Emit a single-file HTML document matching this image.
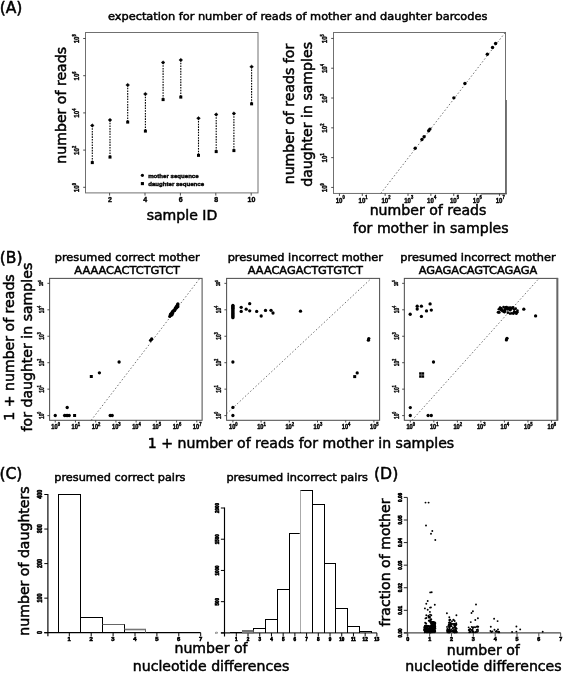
<!DOCTYPE html>
<html lang="en"><head><meta charset="utf-8"><title>Figure</title>
<style>
html,body{margin:0;padding:0;background:#fff}
svg{display:block}
text.m{font-family:"DejaVu Sans","Liberation Sans",sans-serif;fill:#000;stroke:#000;stroke-width:0.5px}
text.t{font-family:"Liberation Sans","DejaVu Sans",sans-serif;font-weight:bold;fill:#000;stroke:#000;stroke-width:0.4px}
text.s{font-family:"Liberation Sans","DejaVu Sans",sans-serif;font-weight:bold;fill:#000;stroke:#000;stroke-width:0.6px}
</style></head><body>
<svg width="563" height="673" viewBox="0 0 563 673">
<rect width="563" height="673" fill="#fff"/>
<text class="m" x="-0.30" y="12.70" font-size="15.5" text-anchor="start">(A)</text>
<text class="m" x="-0.30" y="262.80" font-size="15.5" text-anchor="start">(B)</text>
<text class="m" x="-0.50" y="479.30" font-size="15.5" text-anchor="start">(C)</text>
<text class="m" x="374.00" y="479.30" font-size="15.7" text-anchor="start">(D)</text>
<text class="m" x="297.70" y="19.60" font-size="11.37" text-anchor="middle">expectation for number of reads of mother and daughter barcodes</text>
<rect x="85.50" y="32.50" width="172.50" height="160.40" fill="none" stroke="#707070" stroke-width="1.0"/>
<line x1="109.60" y1="192.90" x2="109.60" y2="195.60" stroke="#3a3a3a" stroke-width="0.9"/>
<g transform="translate(109.90 201.90) rotate(0) scale(1.0 1)"><text class="t" x="0" y="0" font-size="7.0" text-anchor="middle">2</text></g>
<line x1="145.00" y1="192.90" x2="145.00" y2="195.60" stroke="#3a3a3a" stroke-width="0.9"/>
<g transform="translate(145.30 201.90) rotate(0) scale(1.0 1)"><text class="t" x="0" y="0" font-size="7.0" text-anchor="middle">4</text></g>
<line x1="180.40" y1="192.90" x2="180.40" y2="195.60" stroke="#3a3a3a" stroke-width="0.9"/>
<g transform="translate(180.70 201.90) rotate(0) scale(1.0 1)"><text class="t" x="0" y="0" font-size="7.0" text-anchor="middle">6</text></g>
<line x1="215.80" y1="192.90" x2="215.80" y2="195.60" stroke="#3a3a3a" stroke-width="0.9"/>
<g transform="translate(216.10 201.90) rotate(0) scale(1.0 1)"><text class="t" x="0" y="0" font-size="7.0" text-anchor="middle">8</text></g>
<line x1="251.20" y1="192.90" x2="251.20" y2="195.60" stroke="#3a3a3a" stroke-width="0.9"/>
<g transform="translate(251.50 201.90) rotate(0) scale(1.0 1)"><text class="t" x="0" y="0" font-size="7.0" text-anchor="middle">10</text></g>
<line x1="83.20" y1="187.30" x2="85.50" y2="187.30" stroke="#3a3a3a" stroke-width="0.9"/>
<g transform="translate(79.20 187.60) rotate(-90) scale(0.83 1)"><text class="t" x="0" y="0" font-size="7.5" text-anchor="middle">10<tspan font-size="4.8" dy="-3.5">0</tspan></text></g>
<line x1="83.20" y1="150.10" x2="85.50" y2="150.10" stroke="#3a3a3a" stroke-width="0.9"/>
<g transform="translate(79.20 150.40) rotate(-90) scale(0.83 1)"><text class="t" x="0" y="0" font-size="7.5" text-anchor="middle">10<tspan font-size="4.8" dy="-3.5">2</tspan></text></g>
<line x1="83.20" y1="112.90" x2="85.50" y2="112.90" stroke="#3a3a3a" stroke-width="0.9"/>
<g transform="translate(79.20 113.20) rotate(-90) scale(0.83 1)"><text class="t" x="0" y="0" font-size="7.5" text-anchor="middle">10<tspan font-size="4.8" dy="-3.5">4</tspan></text></g>
<line x1="83.20" y1="75.70" x2="85.50" y2="75.70" stroke="#3a3a3a" stroke-width="0.9"/>
<g transform="translate(79.20 76.00) rotate(-90) scale(0.83 1)"><text class="t" x="0" y="0" font-size="7.5" text-anchor="middle">10<tspan font-size="4.8" dy="-3.5">6</tspan></text></g>
<line x1="83.20" y1="38.50" x2="85.50" y2="38.50" stroke="#3a3a3a" stroke-width="0.9"/>
<g transform="translate(79.20 38.80) rotate(-90) scale(0.83 1)"><text class="t" x="0" y="0" font-size="7.5" text-anchor="middle">10<tspan font-size="4.8" dy="-3.5">8</tspan></text></g>
<line x1="92.30" y1="125.50" x2="92.30" y2="162.60" stroke="#000" stroke-width="1.1" stroke-dasharray="1.6 1.1"/>
<polygon points="90.40,125.50 92.30,123.80 94.20,125.50 92.30,127.20" fill="#000" stroke="#000" stroke-width="0.4" stroke-linejoin="round"/>
<rect x="90.80" y="161.10" width="3" height="3" fill="#000"/>
<line x1="110.00" y1="120.00" x2="110.00" y2="157.10" stroke="#000" stroke-width="1.1" stroke-dasharray="1.6 1.1"/>
<polygon points="108.10,120.00 110.00,118.30 111.90,120.00 110.00,121.70" fill="#000" stroke="#000" stroke-width="0.4" stroke-linejoin="round"/>
<rect x="108.50" y="155.60" width="3" height="3" fill="#000"/>
<line x1="127.70" y1="85.00" x2="127.70" y2="122.10" stroke="#000" stroke-width="1.1" stroke-dasharray="1.6 1.1"/>
<polygon points="125.80,85.00 127.70,83.30 129.60,85.00 127.70,86.70" fill="#000" stroke="#000" stroke-width="0.4" stroke-linejoin="round"/>
<rect x="126.20" y="120.60" width="3" height="3" fill="#000"/>
<line x1="145.40" y1="94.00" x2="145.40" y2="131.10" stroke="#000" stroke-width="1.1" stroke-dasharray="1.6 1.1"/>
<polygon points="143.50,94.00 145.40,92.30 147.30,94.00 145.40,95.70" fill="#000" stroke="#000" stroke-width="0.4" stroke-linejoin="round"/>
<rect x="143.90" y="129.60" width="3" height="3" fill="#000"/>
<line x1="163.10" y1="62.50" x2="163.10" y2="99.60" stroke="#000" stroke-width="1.1" stroke-dasharray="1.6 1.1"/>
<polygon points="161.20,62.50 163.10,60.80 165.00,62.50 163.10,64.20" fill="#000" stroke="#000" stroke-width="0.4" stroke-linejoin="round"/>
<rect x="161.60" y="98.10" width="3" height="3" fill="#000"/>
<line x1="180.80" y1="60.00" x2="180.80" y2="97.10" stroke="#000" stroke-width="1.1" stroke-dasharray="1.6 1.1"/>
<polygon points="178.90,60.00 180.80,58.30 182.70,60.00 180.80,61.70" fill="#000" stroke="#000" stroke-width="0.4" stroke-linejoin="round"/>
<rect x="179.30" y="95.60" width="3" height="3" fill="#000"/>
<line x1="198.50" y1="118.25" x2="198.50" y2="155.35" stroke="#000" stroke-width="1.1" stroke-dasharray="1.6 1.1"/>
<polygon points="196.60,118.25 198.50,116.55 200.40,118.25 198.50,119.95" fill="#000" stroke="#000" stroke-width="0.4" stroke-linejoin="round"/>
<rect x="197.00" y="153.85" width="3" height="3" fill="#000"/>
<line x1="216.20" y1="114.50" x2="216.20" y2="151.60" stroke="#000" stroke-width="1.1" stroke-dasharray="1.6 1.1"/>
<polygon points="214.30,114.50 216.20,112.80 218.10,114.50 216.20,116.20" fill="#000" stroke="#000" stroke-width="0.4" stroke-linejoin="round"/>
<rect x="214.70" y="150.10" width="3" height="3" fill="#000"/>
<line x1="233.90" y1="113.50" x2="233.90" y2="150.60" stroke="#000" stroke-width="1.1" stroke-dasharray="1.6 1.1"/>
<polygon points="232.00,113.50 233.90,111.80 235.80,113.50 233.90,115.20" fill="#000" stroke="#000" stroke-width="0.4" stroke-linejoin="round"/>
<rect x="232.40" y="149.10" width="3" height="3" fill="#000"/>
<line x1="251.60" y1="66.75" x2="251.60" y2="103.85" stroke="#000" stroke-width="1.1" stroke-dasharray="1.6 1.1"/>
<polygon points="249.70,66.75 251.60,65.05 253.50,66.75 251.60,68.45" fill="#000" stroke="#000" stroke-width="0.4" stroke-linejoin="round"/>
<rect x="250.10" y="102.35" width="3" height="3" fill="#000"/>
<circle cx="142.40" cy="175.30" r="1.6" fill="#000"/>
<rect x="140.85" y="182.05" width="3.1" height="3.1" fill="#000"/>
<text class="t" x="148.20" y="177.90" font-size="6.1" text-anchor="start">mother sequence</text>
<text class="t" x="148.20" y="186.10" font-size="6.1" text-anchor="start">daughter sequence</text>
<text class="m" x="66.30" y="105.30" font-size="14.1" text-anchor="middle" transform="rotate(-90 66.30 105.30)">number of reads</text>
<text class="m" x="182.00" y="219.60" font-size="14.1" text-anchor="middle">sample ID</text>
<rect x="333.50" y="32.50" width="172.00" height="160.95" fill="none" stroke="#707070" stroke-width="1.0"/>
<line x1="506.10" y1="100.00" x2="506.10" y2="193.95" stroke="#6a6a6a" stroke-width="1.6"/>
<line x1="481.00" y1="193.75" x2="506.70" y2="193.75" stroke="#555" stroke-width="1.4"/>
<line x1="339.44" y1="193.45" x2="339.44" y2="195.95" stroke="#3a3a3a" stroke-width="0.9"/>
<g transform="translate(340.19 202.70) rotate(0) scale(0.87 1)"><text class="t" x="0" y="0" font-size="7.0" text-anchor="middle">10<tspan font-size="4.7" dy="-3.7">0</tspan></text></g>
<line x1="362.30" y1="193.45" x2="362.30" y2="195.95" stroke="#3a3a3a" stroke-width="0.9"/>
<g transform="translate(363.05 202.70) rotate(0) scale(0.87 1)"><text class="t" x="0" y="0" font-size="7.0" text-anchor="middle">10<tspan font-size="4.7" dy="-3.7">1</tspan></text></g>
<line x1="385.16" y1="193.45" x2="385.16" y2="195.95" stroke="#3a3a3a" stroke-width="0.9"/>
<g transform="translate(385.91 202.70) rotate(0) scale(0.87 1)"><text class="t" x="0" y="0" font-size="7.0" text-anchor="middle">10<tspan font-size="4.7" dy="-3.7">2</tspan></text></g>
<line x1="408.02" y1="193.45" x2="408.02" y2="195.95" stroke="#3a3a3a" stroke-width="0.9"/>
<g transform="translate(408.77 202.70) rotate(0) scale(0.87 1)"><text class="t" x="0" y="0" font-size="7.0" text-anchor="middle">10<tspan font-size="4.7" dy="-3.7">3</tspan></text></g>
<line x1="430.88" y1="193.45" x2="430.88" y2="195.95" stroke="#3a3a3a" stroke-width="0.9"/>
<g transform="translate(431.63 202.70) rotate(0) scale(0.87 1)"><text class="t" x="0" y="0" font-size="7.0" text-anchor="middle">10<tspan font-size="4.7" dy="-3.7">4</tspan></text></g>
<line x1="453.74" y1="193.45" x2="453.74" y2="195.95" stroke="#3a3a3a" stroke-width="0.9"/>
<g transform="translate(454.49 202.70) rotate(0) scale(0.87 1)"><text class="t" x="0" y="0" font-size="7.0" text-anchor="middle">10<tspan font-size="4.7" dy="-3.7">5</tspan></text></g>
<line x1="476.60" y1="193.45" x2="476.60" y2="195.95" stroke="#3a3a3a" stroke-width="0.9"/>
<g transform="translate(477.35 202.70) rotate(0) scale(0.87 1)"><text class="t" x="0" y="0" font-size="7.0" text-anchor="middle">10<tspan font-size="4.7" dy="-3.7">6</tspan></text></g>
<line x1="499.46" y1="193.45" x2="499.46" y2="195.95" stroke="#3a3a3a" stroke-width="0.9"/>
<g transform="translate(500.21 202.70) rotate(0) scale(0.87 1)"><text class="t" x="0" y="0" font-size="7.0" text-anchor="middle">10<tspan font-size="4.7" dy="-3.7">7</tspan></text></g>
<line x1="331.20" y1="187.43" x2="333.50" y2="187.43" stroke="#3a3a3a" stroke-width="0.9"/>
<g transform="translate(327.00 187.73) rotate(-90) scale(0.83 1)"><text class="t" x="0" y="0" font-size="7.5" text-anchor="middle">10<tspan font-size="4.8" dy="-3.5">0</tspan></text></g>
<line x1="331.20" y1="157.63" x2="333.50" y2="157.63" stroke="#3a3a3a" stroke-width="0.9"/>
<g transform="translate(327.00 157.93) rotate(-90) scale(0.83 1)"><text class="t" x="0" y="0" font-size="7.5" text-anchor="middle">10<tspan font-size="4.8" dy="-3.5">1</tspan></text></g>
<line x1="331.20" y1="127.83" x2="333.50" y2="127.83" stroke="#3a3a3a" stroke-width="0.9"/>
<g transform="translate(327.00 128.13) rotate(-90) scale(0.83 1)"><text class="t" x="0" y="0" font-size="7.5" text-anchor="middle">10<tspan font-size="4.8" dy="-3.5">2</tspan></text></g>
<line x1="331.20" y1="98.03" x2="333.50" y2="98.03" stroke="#3a3a3a" stroke-width="0.9"/>
<g transform="translate(327.00 98.33) rotate(-90) scale(0.83 1)"><text class="t" x="0" y="0" font-size="7.5" text-anchor="middle">10<tspan font-size="4.8" dy="-3.5">3</tspan></text></g>
<line x1="331.20" y1="68.23" x2="333.50" y2="68.23" stroke="#3a3a3a" stroke-width="0.9"/>
<g transform="translate(327.00 68.53) rotate(-90) scale(0.83 1)"><text class="t" x="0" y="0" font-size="7.5" text-anchor="middle">10<tspan font-size="4.8" dy="-3.5">4</tspan></text></g>
<line x1="331.20" y1="38.43" x2="333.50" y2="38.43" stroke="#3a3a3a" stroke-width="0.9"/>
<g transform="translate(327.00 38.73) rotate(-90) scale(0.83 1)"><text class="t" x="0" y="0" font-size="7.5" text-anchor="middle">10<tspan font-size="4.8" dy="-3.5">5</tspan></text></g>
<line x1="380.75" y1="193.45" x2="505.20" y2="32.50" stroke="#333" stroke-width="0.7" stroke-dasharray="1.5 2.1"/>
<circle cx="415.19" cy="148.28" r="1.7" fill="#000"/>
<circle cx="421.94" cy="139.48" r="1.7" fill="#000"/>
<circle cx="464.91" cy="83.47" r="1.7" fill="#000"/>
<circle cx="453.86" cy="97.87" r="1.7" fill="#000"/>
<circle cx="492.54" cy="47.46" r="1.7" fill="#000"/>
<circle cx="495.60" cy="43.46" r="1.7" fill="#000"/>
<circle cx="424.09" cy="136.68" r="1.7" fill="#000"/>
<circle cx="428.69" cy="130.68" r="1.7" fill="#000"/>
<circle cx="429.92" cy="129.08" r="1.7" fill="#000"/>
<circle cx="487.32" cy="54.26" r="1.7" fill="#000"/>
<text class="m" x="293.90" y="114.00" font-size="14.1" text-anchor="middle" transform="rotate(-90 293.90 114.00)">number of reads for</text>
<text class="m" x="311.70" y="114.40" font-size="14.1" text-anchor="middle" transform="rotate(-90 311.70 114.40)">daughter in samples</text>
<text class="m" x="428.00" y="214.90" font-size="14.1" text-anchor="middle">number of reads</text>
<text class="m" x="430.80" y="233.20" font-size="14.1" text-anchor="middle">for mother in samples</text>
<rect x="49.60" y="278.40" width="152.50" height="141.90" fill="none" stroke="#505050" stroke-width="1.05"/>
<line x1="55.25" y1="420.30" x2="55.25" y2="422.50" stroke="#3a3a3a" stroke-width="0.9"/>
<g transform="translate(55.65 428.85) rotate(0) scale(0.875 1)"><text class="t" x="0" y="0" font-size="6.5" text-anchor="middle">10<tspan font-size="4.8" dy="-2.9">0</tspan></text></g>
<line x1="75.47" y1="420.30" x2="75.47" y2="422.50" stroke="#3a3a3a" stroke-width="0.9"/>
<g transform="translate(75.87 428.85) rotate(0) scale(0.875 1)"><text class="t" x="0" y="0" font-size="6.5" text-anchor="middle">10<tspan font-size="4.8" dy="-2.9">1</tspan></text></g>
<line x1="95.69" y1="420.30" x2="95.69" y2="422.50" stroke="#3a3a3a" stroke-width="0.9"/>
<g transform="translate(96.09 428.85) rotate(0) scale(0.875 1)"><text class="t" x="0" y="0" font-size="6.5" text-anchor="middle">10<tspan font-size="4.8" dy="-2.9">2</tspan></text></g>
<line x1="115.91" y1="420.30" x2="115.91" y2="422.50" stroke="#3a3a3a" stroke-width="0.9"/>
<g transform="translate(116.31 428.85) rotate(0) scale(0.875 1)"><text class="t" x="0" y="0" font-size="6.5" text-anchor="middle">10<tspan font-size="4.8" dy="-2.9">3</tspan></text></g>
<line x1="136.13" y1="420.30" x2="136.13" y2="422.50" stroke="#3a3a3a" stroke-width="0.9"/>
<g transform="translate(136.53 428.85) rotate(0) scale(0.875 1)"><text class="t" x="0" y="0" font-size="6.5" text-anchor="middle">10<tspan font-size="4.8" dy="-2.9">4</tspan></text></g>
<line x1="156.35" y1="420.30" x2="156.35" y2="422.50" stroke="#3a3a3a" stroke-width="0.9"/>
<g transform="translate(156.75 428.85) rotate(0) scale(0.875 1)"><text class="t" x="0" y="0" font-size="6.5" text-anchor="middle">10<tspan font-size="4.8" dy="-2.9">5</tspan></text></g>
<line x1="176.57" y1="420.30" x2="176.57" y2="422.50" stroke="#3a3a3a" stroke-width="0.9"/>
<g transform="translate(176.97 428.85) rotate(0) scale(0.875 1)"><text class="t" x="0" y="0" font-size="6.5" text-anchor="middle">10<tspan font-size="4.8" dy="-2.9">6</tspan></text></g>
<line x1="196.79" y1="420.30" x2="196.79" y2="422.50" stroke="#3a3a3a" stroke-width="0.9"/>
<g transform="translate(197.19 428.85) rotate(0) scale(0.875 1)"><text class="t" x="0" y="0" font-size="6.5" text-anchor="middle">10<tspan font-size="4.8" dy="-2.9">7</tspan></text></g>
<line x1="47.40" y1="415.60" x2="49.60" y2="415.60" stroke="#3a3a3a" stroke-width="0.9"/>
<g transform="translate(44.00 415.40) rotate(-90) scale(0.7 1)"><text class="t" x="0" y="0" font-size="7.0" text-anchor="middle">10<tspan font-size="5.0" dy="-2.8">0</tspan></text></g>
<line x1="47.40" y1="389.15" x2="49.60" y2="389.15" stroke="#3a3a3a" stroke-width="0.9"/>
<g transform="translate(44.00 388.95) rotate(-90) scale(0.7 1)"><text class="t" x="0" y="0" font-size="7.0" text-anchor="middle">10<tspan font-size="5.0" dy="-2.8">1</tspan></text></g>
<line x1="47.40" y1="362.70" x2="49.60" y2="362.70" stroke="#3a3a3a" stroke-width="0.9"/>
<g transform="translate(44.00 362.50) rotate(-90) scale(0.7 1)"><text class="t" x="0" y="0" font-size="7.0" text-anchor="middle">10<tspan font-size="5.0" dy="-2.8">2</tspan></text></g>
<line x1="47.40" y1="336.25" x2="49.60" y2="336.25" stroke="#3a3a3a" stroke-width="0.9"/>
<g transform="translate(44.00 336.05) rotate(-90) scale(0.7 1)"><text class="t" x="0" y="0" font-size="7.0" text-anchor="middle">10<tspan font-size="5.0" dy="-2.8">3</tspan></text></g>
<line x1="47.40" y1="309.80" x2="49.60" y2="309.80" stroke="#3a3a3a" stroke-width="0.9"/>
<g transform="translate(44.00 309.60) rotate(-90) scale(0.7 1)"><text class="t" x="0" y="0" font-size="7.0" text-anchor="middle">10<tspan font-size="5.0" dy="-2.8">4</tspan></text></g>
<line x1="47.40" y1="283.35" x2="49.60" y2="283.35" stroke="#3a3a3a" stroke-width="0.9"/>
<g transform="translate(43.40 283.15) rotate(-90) scale(0.7 1)"><text class="t" x="0" y="0" font-size="5.6" text-anchor="middle">10<tspan font-size="4.0" dy="-2.8">5</tspan></text></g>
<line x1="91.20" y1="420.30" x2="199.80" y2="278.40" stroke="#333" stroke-width="0.7" stroke-dasharray="1.5 2.1"/>
<text class="m" x="127.20" y="261.30" font-size="11.34" text-anchor="middle">presumed correct mother</text>
<text class="m" x="127.20" y="274.30" font-size="11.34" text-anchor="middle">AAAACACTCTGTCT</text>
<rect x="226.60" y="278.40" width="153.00" height="141.90" fill="none" stroke="#505050" stroke-width="1.05"/>
<line x1="232.90" y1="420.30" x2="232.90" y2="422.50" stroke="#3a3a3a" stroke-width="0.9"/>
<g transform="translate(233.30 428.85) rotate(0) scale(0.875 1)"><text class="t" x="0" y="0" font-size="6.5" text-anchor="middle">10<tspan font-size="4.8" dy="-2.9">0</tspan></text></g>
<line x1="261.10" y1="420.30" x2="261.10" y2="422.50" stroke="#3a3a3a" stroke-width="0.9"/>
<g transform="translate(261.50 428.85) rotate(0) scale(0.875 1)"><text class="t" x="0" y="0" font-size="6.5" text-anchor="middle">10<tspan font-size="4.8" dy="-2.9">1</tspan></text></g>
<line x1="289.30" y1="420.30" x2="289.30" y2="422.50" stroke="#3a3a3a" stroke-width="0.9"/>
<g transform="translate(289.70 428.85) rotate(0) scale(0.875 1)"><text class="t" x="0" y="0" font-size="6.5" text-anchor="middle">10<tspan font-size="4.8" dy="-2.9">2</tspan></text></g>
<line x1="317.50" y1="420.30" x2="317.50" y2="422.50" stroke="#3a3a3a" stroke-width="0.9"/>
<g transform="translate(317.90 428.85) rotate(0) scale(0.875 1)"><text class="t" x="0" y="0" font-size="6.5" text-anchor="middle">10<tspan font-size="4.8" dy="-2.9">3</tspan></text></g>
<line x1="345.70" y1="420.30" x2="345.70" y2="422.50" stroke="#3a3a3a" stroke-width="0.9"/>
<g transform="translate(346.10 428.85) rotate(0) scale(0.875 1)"><text class="t" x="0" y="0" font-size="6.5" text-anchor="middle">10<tspan font-size="4.8" dy="-2.9">4</tspan></text></g>
<line x1="373.90" y1="420.30" x2="373.90" y2="422.50" stroke="#3a3a3a" stroke-width="0.9"/>
<g transform="translate(374.30 428.85) rotate(0) scale(0.875 1)"><text class="t" x="0" y="0" font-size="6.5" text-anchor="middle">10<tspan font-size="4.8" dy="-2.9">5</tspan></text></g>
<line x1="224.40" y1="415.60" x2="226.60" y2="415.60" stroke="#3a3a3a" stroke-width="0.9"/>
<g transform="translate(221.00 415.40) rotate(-90) scale(0.7 1)"><text class="t" x="0" y="0" font-size="7.0" text-anchor="middle">10<tspan font-size="5.0" dy="-2.8">0</tspan></text></g>
<line x1="224.40" y1="389.15" x2="226.60" y2="389.15" stroke="#3a3a3a" stroke-width="0.9"/>
<g transform="translate(221.00 388.95) rotate(-90) scale(0.7 1)"><text class="t" x="0" y="0" font-size="7.0" text-anchor="middle">10<tspan font-size="5.0" dy="-2.8">1</tspan></text></g>
<line x1="224.40" y1="362.70" x2="226.60" y2="362.70" stroke="#3a3a3a" stroke-width="0.9"/>
<g transform="translate(221.00 362.50) rotate(-90) scale(0.7 1)"><text class="t" x="0" y="0" font-size="7.0" text-anchor="middle">10<tspan font-size="5.0" dy="-2.8">2</tspan></text></g>
<line x1="224.40" y1="336.25" x2="226.60" y2="336.25" stroke="#3a3a3a" stroke-width="0.9"/>
<g transform="translate(221.00 336.05) rotate(-90) scale(0.7 1)"><text class="t" x="0" y="0" font-size="7.0" text-anchor="middle">10<tspan font-size="5.0" dy="-2.8">3</tspan></text></g>
<line x1="224.40" y1="309.80" x2="226.60" y2="309.80" stroke="#3a3a3a" stroke-width="0.9"/>
<g transform="translate(221.00 309.60) rotate(-90) scale(0.7 1)"><text class="t" x="0" y="0" font-size="7.0" text-anchor="middle">10<tspan font-size="5.0" dy="-2.8">4</tspan></text></g>
<line x1="224.40" y1="283.35" x2="226.60" y2="283.35" stroke="#3a3a3a" stroke-width="0.9"/>
<g transform="translate(220.40 283.15) rotate(-90) scale(0.7 1)"><text class="t" x="0" y="0" font-size="5.6" text-anchor="middle">10<tspan font-size="4.0" dy="-2.8">5</tspan></text></g>
<line x1="226.60" y1="413.80" x2="371.30" y2="278.40" stroke="#333" stroke-width="0.7" stroke-dasharray="1.5 2.1"/>
<text class="m" x="305.30" y="261.30" font-size="11.34" text-anchor="middle">presumed incorrect mother</text>
<text class="m" x="305.30" y="274.30" font-size="11.34" text-anchor="middle">AAACAGACTGTGTCT</text>
<rect x="404.35" y="278.40" width="152.95" height="141.90" fill="none" stroke="#505050" stroke-width="1.05"/>
<line x1="410.30" y1="420.30" x2="410.30" y2="422.50" stroke="#3a3a3a" stroke-width="0.9"/>
<g transform="translate(410.70 428.85) rotate(0) scale(0.875 1)"><text class="t" x="0" y="0" font-size="6.5" text-anchor="middle">10<tspan font-size="4.8" dy="-2.9">0</tspan></text></g>
<line x1="433.83" y1="420.30" x2="433.83" y2="422.50" stroke="#3a3a3a" stroke-width="0.9"/>
<g transform="translate(434.23 428.85) rotate(0) scale(0.875 1)"><text class="t" x="0" y="0" font-size="6.5" text-anchor="middle">10<tspan font-size="4.8" dy="-2.9">1</tspan></text></g>
<line x1="457.36" y1="420.30" x2="457.36" y2="422.50" stroke="#3a3a3a" stroke-width="0.9"/>
<g transform="translate(457.76 428.85) rotate(0) scale(0.875 1)"><text class="t" x="0" y="0" font-size="6.5" text-anchor="middle">10<tspan font-size="4.8" dy="-2.9">2</tspan></text></g>
<line x1="480.89" y1="420.30" x2="480.89" y2="422.50" stroke="#3a3a3a" stroke-width="0.9"/>
<g transform="translate(481.29 428.85) rotate(0) scale(0.875 1)"><text class="t" x="0" y="0" font-size="6.5" text-anchor="middle">10<tspan font-size="4.8" dy="-2.9">3</tspan></text></g>
<line x1="504.42" y1="420.30" x2="504.42" y2="422.50" stroke="#3a3a3a" stroke-width="0.9"/>
<g transform="translate(504.82 428.85) rotate(0) scale(0.875 1)"><text class="t" x="0" y="0" font-size="6.5" text-anchor="middle">10<tspan font-size="4.8" dy="-2.9">4</tspan></text></g>
<line x1="527.95" y1="420.30" x2="527.95" y2="422.50" stroke="#3a3a3a" stroke-width="0.9"/>
<g transform="translate(528.35 428.85) rotate(0) scale(0.875 1)"><text class="t" x="0" y="0" font-size="6.5" text-anchor="middle">10<tspan font-size="4.8" dy="-2.9">5</tspan></text></g>
<line x1="551.48" y1="420.30" x2="551.48" y2="422.50" stroke="#3a3a3a" stroke-width="0.9"/>
<g transform="translate(551.88 428.85) rotate(0) scale(0.875 1)"><text class="t" x="0" y="0" font-size="6.5" text-anchor="middle">10<tspan font-size="4.8" dy="-2.9">6</tspan></text></g>
<line x1="402.15" y1="415.60" x2="404.35" y2="415.60" stroke="#3a3a3a" stroke-width="0.9"/>
<g transform="translate(398.75 415.40) rotate(-90) scale(0.7 1)"><text class="t" x="0" y="0" font-size="7.0" text-anchor="middle">10<tspan font-size="5.0" dy="-2.8">0</tspan></text></g>
<line x1="402.15" y1="389.15" x2="404.35" y2="389.15" stroke="#3a3a3a" stroke-width="0.9"/>
<g transform="translate(398.75 388.95) rotate(-90) scale(0.7 1)"><text class="t" x="0" y="0" font-size="7.0" text-anchor="middle">10<tspan font-size="5.0" dy="-2.8">1</tspan></text></g>
<line x1="402.15" y1="362.70" x2="404.35" y2="362.70" stroke="#3a3a3a" stroke-width="0.9"/>
<g transform="translate(398.75 362.50) rotate(-90) scale(0.7 1)"><text class="t" x="0" y="0" font-size="7.0" text-anchor="middle">10<tspan font-size="5.0" dy="-2.8">2</tspan></text></g>
<line x1="402.15" y1="336.25" x2="404.35" y2="336.25" stroke="#3a3a3a" stroke-width="0.9"/>
<g transform="translate(398.75 336.05) rotate(-90) scale(0.7 1)"><text class="t" x="0" y="0" font-size="7.0" text-anchor="middle">10<tspan font-size="5.0" dy="-2.8">3</tspan></text></g>
<line x1="402.15" y1="309.80" x2="404.35" y2="309.80" stroke="#3a3a3a" stroke-width="0.9"/>
<g transform="translate(398.75 309.60) rotate(-90) scale(0.7 1)"><text class="t" x="0" y="0" font-size="7.0" text-anchor="middle">10<tspan font-size="5.0" dy="-2.8">4</tspan></text></g>
<line x1="402.15" y1="283.35" x2="404.35" y2="283.35" stroke="#3a3a3a" stroke-width="0.9"/>
<g transform="translate(398.15 283.15) rotate(-90) scale(0.7 1)"><text class="t" x="0" y="0" font-size="5.6" text-anchor="middle">10<tspan font-size="4.0" dy="-2.8">5</tspan></text></g>
<line x1="412.00" y1="420.30" x2="539.00" y2="278.40" stroke="#333" stroke-width="0.7" stroke-dasharray="1.5 2.1"/>
<text class="m" x="478.00" y="261.30" font-size="11.34" text-anchor="middle">presumed incorrect mother</text>
<text class="m" x="478.00" y="274.30" font-size="11.34" text-anchor="middle">AGAGACAGTCAGAGA</text>
<line x1="557.40" y1="277.90" x2="557.40" y2="420.80" stroke="#666" stroke-width="1.9"/>
<circle cx="55.25" cy="415.50" r="1.65" fill="#000"/>
<circle cx="64.60" cy="415.50" r="1.65" fill="#000"/>
<circle cx="66.10" cy="415.50" r="1.65" fill="#000"/>
<circle cx="67.60" cy="415.50" r="1.65" fill="#000"/>
<circle cx="69.20" cy="415.50" r="1.65" fill="#000"/>
<circle cx="67.20" cy="407.50" r="1.65" fill="#000"/>
<circle cx="99.40" cy="372.80" r="1.65" fill="#000"/>
<circle cx="119.10" cy="362.00" r="1.65" fill="#000"/>
<circle cx="110.20" cy="415.50" r="1.65" fill="#000"/>
<circle cx="112.20" cy="415.50" r="1.65" fill="#000"/>
<circle cx="150.60" cy="340.30" r="1.65" fill="#000"/>
<circle cx="151.70" cy="338.90" r="1.65" fill="#000"/>
<rect x="73.10" y="414.00" width="3.0" height="3.0" fill="#000"/>
<rect x="89.80" y="375.00" width="3.0" height="3.0" fill="#000"/>
<circle cx="169.73" cy="316.44" r="1.5675" fill="#000"/>
<circle cx="170.56" cy="315.61" r="1.5675" fill="#000"/>
<circle cx="170.79" cy="314.62" r="1.5675" fill="#000"/>
<circle cx="170.47" cy="314.14" r="1.5675" fill="#000"/>
<circle cx="171.96" cy="313.79" r="1.5675" fill="#000"/>
<circle cx="171.87" cy="314.95" r="1.5675" fill="#000"/>
<circle cx="171.88" cy="314.44" r="1.5675" fill="#000"/>
<circle cx="172.75" cy="313.01" r="1.5675" fill="#000"/>
<circle cx="171.87" cy="312.59" r="1.5675" fill="#000"/>
<circle cx="172.44" cy="312.39" r="1.5675" fill="#000"/>
<circle cx="172.97" cy="311.99" r="1.5675" fill="#000"/>
<circle cx="172.59" cy="311.20" r="1.5675" fill="#000"/>
<circle cx="173.63" cy="310.72" r="1.5675" fill="#000"/>
<circle cx="173.93" cy="310.32" r="1.5675" fill="#000"/>
<circle cx="174.66" cy="309.72" r="1.5675" fill="#000"/>
<circle cx="174.60" cy="310.54" r="1.5675" fill="#000"/>
<circle cx="174.54" cy="310.25" r="1.5675" fill="#000"/>
<circle cx="174.86" cy="309.69" r="1.5675" fill="#000"/>
<circle cx="175.26" cy="307.97" r="1.5675" fill="#000"/>
<circle cx="176.13" cy="308.30" r="1.5675" fill="#000"/>
<circle cx="175.75" cy="308.02" r="1.5675" fill="#000"/>
<circle cx="176.37" cy="307.30" r="1.5675" fill="#000"/>
<circle cx="177.31" cy="306.81" r="1.5675" fill="#000"/>
<circle cx="176.12" cy="306.88" r="1.5675" fill="#000"/>
<circle cx="177.89" cy="306.69" r="1.5675" fill="#000"/>
<circle cx="177.10" cy="306.15" r="1.5675" fill="#000"/>
<circle cx="177.43" cy="304.95" r="1.5675" fill="#000"/>
<circle cx="177.09" cy="305.57" r="1.5675" fill="#000"/>
<circle cx="177.67" cy="304.48" r="1.5675" fill="#000"/>
<circle cx="177.89" cy="303.86" r="1.5675" fill="#000"/>
<circle cx="232.90" cy="305.30" r="1.65" fill="#000"/>
<circle cx="232.90" cy="306.25" r="1.65" fill="#000"/>
<circle cx="232.90" cy="307.20" r="1.65" fill="#000"/>
<circle cx="232.90" cy="308.15" r="1.65" fill="#000"/>
<circle cx="232.90" cy="309.10" r="1.65" fill="#000"/>
<circle cx="232.90" cy="310.05" r="1.65" fill="#000"/>
<circle cx="232.90" cy="311.00" r="1.65" fill="#000"/>
<circle cx="232.90" cy="311.95" r="1.65" fill="#000"/>
<circle cx="232.90" cy="312.90" r="1.65" fill="#000"/>
<circle cx="232.90" cy="313.85" r="1.65" fill="#000"/>
<circle cx="232.90" cy="314.80" r="1.65" fill="#000"/>
<circle cx="232.90" cy="315.75" r="1.65" fill="#000"/>
<circle cx="232.90" cy="316.70" r="1.65" fill="#000"/>
<circle cx="232.90" cy="317.65" r="1.65" fill="#000"/>
<circle cx="241.20" cy="307.30" r="1.65" fill="#000"/>
<circle cx="241.20" cy="311.40" r="1.65" fill="#000"/>
<circle cx="246.20" cy="309.20" r="1.65" fill="#000"/>
<circle cx="249.70" cy="303.70" r="1.65" fill="#000"/>
<circle cx="249.70" cy="310.80" r="1.65" fill="#000"/>
<circle cx="256.70" cy="311.40" r="1.65" fill="#000"/>
<circle cx="261.20" cy="316.00" r="1.65" fill="#000"/>
<circle cx="265.50" cy="310.40" r="1.65" fill="#000"/>
<circle cx="271.00" cy="310.30" r="1.65" fill="#000"/>
<circle cx="273.00" cy="313.00" r="1.65" fill="#000"/>
<circle cx="300.50" cy="311.20" r="1.65" fill="#000"/>
<circle cx="368.80" cy="338.60" r="1.65" fill="#000"/>
<circle cx="368.40" cy="340.20" r="1.65" fill="#000"/>
<circle cx="357.20" cy="372.90" r="1.65" fill="#000"/>
<circle cx="232.90" cy="362.00" r="1.65" fill="#000"/>
<circle cx="232.90" cy="407.40" r="1.65" fill="#000"/>
<circle cx="232.90" cy="415.50" r="1.65" fill="#000"/>
<rect x="353.20" y="375.10" width="3.0" height="3.0" fill="#000"/>
<circle cx="410.20" cy="314.25" r="1.65" fill="#000"/>
<circle cx="417.20" cy="306.20" r="1.65" fill="#000"/>
<circle cx="417.20" cy="309.00" r="1.65" fill="#000"/>
<circle cx="421.40" cy="306.20" r="1.65" fill="#000"/>
<circle cx="421.40" cy="316.40" r="1.65" fill="#000"/>
<circle cx="430.10" cy="303.90" r="1.65" fill="#000"/>
<circle cx="426.50" cy="310.90" r="1.65" fill="#000"/>
<circle cx="431.30" cy="310.10" r="1.65" fill="#000"/>
<circle cx="523.80" cy="309.20" r="1.65" fill="#000"/>
<circle cx="535.60" cy="315.90" r="1.65" fill="#000"/>
<circle cx="507.00" cy="338.30" r="1.65" fill="#000"/>
<circle cx="506.40" cy="339.90" r="1.65" fill="#000"/>
<circle cx="433.50" cy="362.00" r="1.65" fill="#000"/>
<circle cx="428.10" cy="415.50" r="1.65" fill="#000"/>
<circle cx="431.30" cy="415.50" r="1.65" fill="#000"/>
<circle cx="410.30" cy="407.60" r="1.65" fill="#000"/>
<circle cx="410.30" cy="415.50" r="1.65" fill="#000"/>
<rect x="419.15" y="372.25" width="2.5" height="2.5" fill="#000"/>
<rect x="421.65" y="372.25" width="2.5" height="2.5" fill="#000"/>
<rect x="419.15" y="375.25" width="2.5" height="2.5" fill="#000"/>
<rect x="421.65" y="375.25" width="2.5" height="2.5" fill="#000"/>
<circle cx="498.05" cy="312.33" r="1.35" fill="#000"/>
<circle cx="498.63" cy="312.23" r="1.35" fill="#000"/>
<circle cx="498.84" cy="309.27" r="1.35" fill="#000"/>
<circle cx="499.33" cy="312.39" r="1.35" fill="#000"/>
<circle cx="500.05" cy="307.58" r="1.35" fill="#000"/>
<circle cx="500.15" cy="308.12" r="1.35" fill="#000"/>
<circle cx="500.63" cy="309.81" r="1.35" fill="#000"/>
<circle cx="501.25" cy="308.36" r="1.35" fill="#000"/>
<circle cx="501.44" cy="309.40" r="1.35" fill="#000"/>
<circle cx="502.06" cy="310.40" r="1.35" fill="#000"/>
<circle cx="502.78" cy="311.25" r="1.35" fill="#000"/>
<circle cx="503.03" cy="310.78" r="1.35" fill="#000"/>
<circle cx="503.56" cy="307.08" r="1.35" fill="#000"/>
<circle cx="504.12" cy="311.89" r="1.35" fill="#000"/>
<circle cx="504.56" cy="312.03" r="1.35" fill="#000"/>
<circle cx="504.80" cy="309.41" r="1.35" fill="#000"/>
<circle cx="505.12" cy="310.97" r="1.35" fill="#000"/>
<circle cx="505.56" cy="307.25" r="1.35" fill="#000"/>
<circle cx="506.08" cy="307.89" r="1.35" fill="#000"/>
<circle cx="506.59" cy="307.19" r="1.35" fill="#000"/>
<circle cx="506.89" cy="307.85" r="1.35" fill="#000"/>
<circle cx="507.39" cy="309.28" r="1.35" fill="#000"/>
<circle cx="507.81" cy="312.66" r="1.35" fill="#000"/>
<circle cx="508.53" cy="307.90" r="1.35" fill="#000"/>
<circle cx="508.82" cy="309.23" r="1.35" fill="#000"/>
<circle cx="509.33" cy="307.76" r="1.35" fill="#000"/>
<circle cx="510.00" cy="313.53" r="1.35" fill="#000"/>
<circle cx="510.28" cy="310.18" r="1.35" fill="#000"/>
<circle cx="510.57" cy="307.68" r="1.35" fill="#000"/>
<circle cx="511.14" cy="308.77" r="1.35" fill="#000"/>
<circle cx="511.81" cy="308.12" r="1.35" fill="#000"/>
<circle cx="511.90" cy="313.33" r="1.35" fill="#000"/>
<circle cx="512.59" cy="308.05" r="1.35" fill="#000"/>
<circle cx="513.05" cy="307.28" r="1.35" fill="#000"/>
<circle cx="513.49" cy="313.58" r="1.35" fill="#000"/>
<circle cx="514.10" cy="311.74" r="1.35" fill="#000"/>
<circle cx="514.28" cy="309.57" r="1.35" fill="#000"/>
<circle cx="514.69" cy="312.26" r="1.35" fill="#000"/>
<circle cx="515.31" cy="312.33" r="1.35" fill="#000"/>
<circle cx="515.68" cy="308.68" r="1.35" fill="#000"/>
<circle cx="516.35" cy="313.73" r="1.35" fill="#000"/>
<circle cx="516.82" cy="312.57" r="1.35" fill="#000"/>
<circle cx="517.26" cy="312.15" r="1.35" fill="#000"/>
<circle cx="517.45" cy="310.69" r="1.35" fill="#000"/>
<text class="m" x="14.20" y="347.50" font-size="14.1" text-anchor="middle" transform="rotate(-90 14.20 347.50)">1 + number of reads</text>
<text class="m" x="31.80" y="347.10" font-size="14.1" text-anchor="middle" transform="rotate(-90 31.80 347.10)">for daughter in samples</text>
<text class="m" x="301.00" y="448.30" font-size="14.1" text-anchor="middle">1 + number of reads for mother in samples</text>
<line x1="47.90" y1="494.00" x2="47.90" y2="636.30" stroke="#000" stroke-width="1.15"/>
<line x1="44.30" y1="632.70" x2="200.70" y2="632.70" stroke="#000" stroke-width="1.3"/>
<line x1="44.30" y1="632.70" x2="47.90" y2="632.70" stroke="#000" stroke-width="1.0"/>
<g transform="translate(42.10 632.50) rotate(-90) scale(0.82 1)"><text class="s" x="0" y="0" font-size="6.6" text-anchor="middle">0</text></g>
<line x1="44.30" y1="598.15" x2="47.90" y2="598.15" stroke="#000" stroke-width="1.0"/>
<g transform="translate(42.10 597.95) rotate(-90) scale(0.82 1)"><text class="s" x="0" y="0" font-size="6.6" text-anchor="middle">100</text></g>
<line x1="44.30" y1="563.60" x2="47.90" y2="563.60" stroke="#000" stroke-width="1.0"/>
<g transform="translate(42.10 563.40) rotate(-90) scale(0.82 1)"><text class="s" x="0" y="0" font-size="6.6" text-anchor="middle">200</text></g>
<line x1="44.30" y1="529.05" x2="47.90" y2="529.05" stroke="#000" stroke-width="1.0"/>
<g transform="translate(42.10 528.85) rotate(-90) scale(0.82 1)"><text class="s" x="0" y="0" font-size="6.6" text-anchor="middle">300</text></g>
<line x1="44.30" y1="494.50" x2="47.90" y2="494.50" stroke="#000" stroke-width="1.0"/>
<g transform="translate(42.10 494.30) rotate(-90) scale(0.82 1)"><text class="s" x="0" y="0" font-size="6.6" text-anchor="middle">400</text></g>
<line x1="69.30" y1="632.70" x2="69.30" y2="636.30" stroke="#000" stroke-width="1.0"/>
<text class="s" x="69.20" y="640.90" font-size="5.9" text-anchor="middle">1</text>
<line x1="91.20" y1="632.70" x2="91.20" y2="636.30" stroke="#000" stroke-width="1.0"/>
<text class="s" x="91.10" y="640.90" font-size="5.9" text-anchor="middle">2</text>
<line x1="113.10" y1="632.70" x2="113.10" y2="636.30" stroke="#000" stroke-width="1.0"/>
<text class="s" x="113.00" y="640.90" font-size="5.9" text-anchor="middle">3</text>
<line x1="135.00" y1="632.70" x2="135.00" y2="636.30" stroke="#000" stroke-width="1.0"/>
<text class="s" x="134.90" y="640.90" font-size="5.9" text-anchor="middle">4</text>
<line x1="156.90" y1="632.70" x2="156.90" y2="636.30" stroke="#000" stroke-width="1.0"/>
<text class="s" x="156.80" y="640.90" font-size="5.9" text-anchor="middle">5</text>
<line x1="178.80" y1="632.70" x2="178.80" y2="636.30" stroke="#000" stroke-width="1.0"/>
<text class="s" x="178.70" y="640.90" font-size="5.9" text-anchor="middle">6</text>
<line x1="200.70" y1="632.70" x2="200.70" y2="636.30" stroke="#000" stroke-width="1.0"/>
<text class="s" x="200.60" y="640.90" font-size="5.9" text-anchor="middle">7</text>
<line x1="58.00" y1="494.50" x2="81.00" y2="494.50" stroke="#000" stroke-width="1.0"/>
<line x1="58.50" y1="494.50" x2="58.50" y2="632.70" stroke="#000" stroke-width="1.0"/>
<line x1="80.50" y1="494.50" x2="80.50" y2="632.70" stroke="#000" stroke-width="1.0"/>
<line x1="80.00" y1="617.50" x2="103.00" y2="617.50" stroke="#000" stroke-width="1.0"/>
<line x1="80.50" y1="617.50" x2="80.50" y2="632.70" stroke="#000" stroke-width="1.0"/>
<line x1="102.50" y1="617.50" x2="102.50" y2="632.70" stroke="#000" stroke-width="1.0"/>
<line x1="102.00" y1="624.50" x2="125.00" y2="624.50" stroke="#666" stroke-width="1.0"/>
<line x1="102.50" y1="624.50" x2="102.50" y2="632.70" stroke="#000" stroke-width="1.0"/>
<line x1="124.50" y1="624.50" x2="124.50" y2="632.70" stroke="#000" stroke-width="1.0"/>
<line x1="124.00" y1="629.50" x2="146.00" y2="629.50" stroke="#777" stroke-width="1.6"/>
<line x1="124.50" y1="629.50" x2="124.50" y2="632.70" stroke="#000" stroke-width="1.0"/>
<line x1="145.50" y1="629.50" x2="145.50" y2="632.70" stroke="#666" stroke-width="1.0"/>
<text class="m" x="119.90" y="481.30" font-size="11.3" text-anchor="middle">presumed correct pairs</text>
<text class="m" x="29.40" y="561.00" font-size="14.1" text-anchor="middle" transform="rotate(-90 29.40 561.00)">number of daughters</text>
<text class="m" x="211.00" y="653.40" font-size="14.1" text-anchor="middle">number of</text>
<text class="m" x="211.00" y="670.60" font-size="14.1" text-anchor="middle">nucleotide differences</text>
<line x1="224.50" y1="507.50" x2="224.50" y2="636.50" stroke="#000" stroke-width="1.15"/>
<line x1="220.90" y1="632.90" x2="230.50" y2="632.90" stroke="#000" stroke-width="1.2"/>
<line x1="230.50" y1="632.90" x2="376.90" y2="632.90" stroke="#333" stroke-width="1.2"/>
<line x1="220.90" y1="632.90" x2="224.50" y2="632.90" stroke="#000" stroke-width="1.0"/>
<text x="218.4" y="632.90" font-size="4.2" text-anchor="middle" transform="rotate(-90 218.4 632.90)" font-family='"Liberation Sans",sans-serif' font-weight="bold" fill="#666">0</text>
<line x1="220.90" y1="601.67" x2="224.50" y2="601.67" stroke="#000" stroke-width="1.0"/>
<text class="s" x="218.60" y="601.67" font-size="4.5" text-anchor="middle" transform="rotate(-90 218.60 601.67)">500</text>
<line x1="220.90" y1="570.45" x2="224.50" y2="570.45" stroke="#000" stroke-width="1.0"/>
<text class="s" x="218.60" y="570.45" font-size="4.5" text-anchor="middle" transform="rotate(-90 218.60 570.45)">1000</text>
<line x1="220.90" y1="539.23" x2="224.50" y2="539.23" stroke="#000" stroke-width="1.0"/>
<text class="s" x="218.60" y="539.23" font-size="4.5" text-anchor="middle" transform="rotate(-90 218.60 539.23)">1500</text>
<line x1="220.90" y1="508.00" x2="224.50" y2="508.00" stroke="#000" stroke-width="1.0"/>
<text class="s" x="218.60" y="508.00" font-size="4.5" text-anchor="middle" transform="rotate(-90 218.60 508.00)">2000</text>
<line x1="236.30" y1="632.90" x2="236.30" y2="636.50" stroke="#000" stroke-width="1.0"/>
<text class="s" x="236.30" y="640.90" font-size="4.6" text-anchor="middle">1</text>
<line x1="248.02" y1="632.90" x2="248.02" y2="636.50" stroke="#000" stroke-width="1.0"/>
<text class="s" x="248.02" y="640.90" font-size="4.6" text-anchor="middle">2</text>
<line x1="259.73" y1="632.90" x2="259.73" y2="636.50" stroke="#000" stroke-width="1.0"/>
<text class="s" x="259.73" y="640.90" font-size="4.6" text-anchor="middle">3</text>
<line x1="271.44" y1="632.90" x2="271.44" y2="636.50" stroke="#000" stroke-width="1.0"/>
<text class="s" x="271.44" y="640.90" font-size="4.6" text-anchor="middle">4</text>
<line x1="283.16" y1="632.90" x2="283.16" y2="636.50" stroke="#000" stroke-width="1.0"/>
<text class="s" x="283.16" y="640.90" font-size="4.6" text-anchor="middle">5</text>
<line x1="294.88" y1="632.90" x2="294.88" y2="636.50" stroke="#000" stroke-width="1.0"/>
<text class="s" x="294.88" y="640.90" font-size="4.6" text-anchor="middle">6</text>
<line x1="306.59" y1="632.90" x2="306.59" y2="636.50" stroke="#000" stroke-width="1.0"/>
<text class="s" x="306.59" y="640.90" font-size="4.6" text-anchor="middle">7</text>
<line x1="318.31" y1="632.90" x2="318.31" y2="636.50" stroke="#000" stroke-width="1.0"/>
<text class="s" x="318.31" y="640.90" font-size="4.6" text-anchor="middle">8</text>
<line x1="330.02" y1="632.90" x2="330.02" y2="636.50" stroke="#000" stroke-width="1.0"/>
<text class="s" x="330.02" y="640.90" font-size="4.6" text-anchor="middle">9</text>
<line x1="341.74" y1="632.90" x2="341.74" y2="636.50" stroke="#000" stroke-width="1.0"/>
<text class="s" x="341.74" y="640.90" font-size="4.6" text-anchor="middle">10</text>
<line x1="353.45" y1="632.90" x2="353.45" y2="636.50" stroke="#000" stroke-width="1.0"/>
<text class="s" x="353.45" y="640.90" font-size="4.6" text-anchor="middle">11</text>
<line x1="365.17" y1="632.90" x2="365.17" y2="636.50" stroke="#000" stroke-width="1.0"/>
<text class="s" x="365.17" y="640.90" font-size="4.6" text-anchor="middle">12</text>
<line x1="376.88" y1="632.90" x2="376.88" y2="636.50" stroke="#000" stroke-width="1.0"/>
<text class="s" x="376.88" y="640.90" font-size="4.6" text-anchor="middle">13</text>
<line x1="230.00" y1="632.50" x2="243.00" y2="632.50" stroke="#000" stroke-width="1.0"/>
<line x1="230.50" y1="632.50" x2="230.50" y2="632.90" stroke="#000" stroke-width="1.0"/>
<line x1="242.50" y1="632.50" x2="242.50" y2="632.90" stroke="#000" stroke-width="1.0"/>
<line x1="242.00" y1="630.50" x2="254.00" y2="630.50" stroke="#666" stroke-width="1.0"/>
<line x1="242.50" y1="630.50" x2="242.50" y2="632.90" stroke="#000" stroke-width="1.0"/>
<line x1="253.50" y1="630.50" x2="253.50" y2="632.90" stroke="#000" stroke-width="1.0"/>
<line x1="253.00" y1="628.50" x2="266.00" y2="628.50" stroke="#000" stroke-width="1.0"/>
<line x1="253.50" y1="628.50" x2="253.50" y2="632.90" stroke="#000" stroke-width="1.0"/>
<line x1="265.50" y1="628.50" x2="265.50" y2="632.90" stroke="#000" stroke-width="1.0"/>
<line x1="265.00" y1="619.50" x2="278.00" y2="619.50" stroke="#000" stroke-width="1.0"/>
<line x1="265.50" y1="619.50" x2="265.50" y2="632.90" stroke="#000" stroke-width="1.0"/>
<line x1="277.50" y1="619.50" x2="277.50" y2="632.90" stroke="#000" stroke-width="1.0"/>
<line x1="277.00" y1="589.50" x2="290.00" y2="589.50" stroke="#000" stroke-width="1.0"/>
<line x1="277.50" y1="589.50" x2="277.50" y2="632.90" stroke="#000" stroke-width="1.0"/>
<line x1="289.50" y1="589.50" x2="289.50" y2="632.90" stroke="#000" stroke-width="1.0"/>
<line x1="289.00" y1="533.50" x2="301.00" y2="533.50" stroke="#000" stroke-width="1.0"/>
<line x1="289.50" y1="533.50" x2="289.50" y2="632.90" stroke="#000" stroke-width="1.0"/>
<line x1="300.50" y1="533.50" x2="300.50" y2="632.90" stroke="#000" stroke-width="1.0"/>
<line x1="300.00" y1="490.50" x2="313.00" y2="490.50" stroke="#000" stroke-width="1.0"/>
<line x1="300.50" y1="490.50" x2="300.50" y2="632.90" stroke="#000" stroke-width="1.0"/>
<line x1="312.50" y1="490.50" x2="312.50" y2="632.90" stroke="#000" stroke-width="1.0"/>
<line x1="312.00" y1="504.50" x2="325.00" y2="504.50" stroke="#000" stroke-width="1.0"/>
<line x1="312.50" y1="504.50" x2="312.50" y2="632.90" stroke="#000" stroke-width="1.0"/>
<line x1="324.50" y1="504.50" x2="324.50" y2="632.90" stroke="#000" stroke-width="1.0"/>
<line x1="324.00" y1="563.50" x2="336.00" y2="563.50" stroke="#000" stroke-width="1.0"/>
<line x1="324.50" y1="563.50" x2="324.50" y2="632.90" stroke="#000" stroke-width="1.0"/>
<line x1="335.50" y1="563.50" x2="335.50" y2="632.90" stroke="#000" stroke-width="1.0"/>
<line x1="335.00" y1="608.50" x2="348.00" y2="608.50" stroke="#000" stroke-width="1.0"/>
<line x1="335.50" y1="608.50" x2="335.50" y2="632.90" stroke="#000" stroke-width="1.0"/>
<line x1="347.50" y1="608.50" x2="347.50" y2="632.90" stroke="#000" stroke-width="1.0"/>
<line x1="347.00" y1="626.50" x2="360.00" y2="626.50" stroke="#000" stroke-width="1.0"/>
<line x1="347.50" y1="626.50" x2="347.50" y2="632.90" stroke="#000" stroke-width="1.0"/>
<line x1="359.50" y1="626.50" x2="359.50" y2="632.90" stroke="#000" stroke-width="1.0"/>
<line x1="359.00" y1="631.50" x2="372.00" y2="631.50" stroke="#000" stroke-width="1.0"/>
<line x1="359.50" y1="631.50" x2="359.50" y2="632.90" stroke="#000" stroke-width="1.0"/>
<line x1="371.50" y1="631.50" x2="371.50" y2="632.90" stroke="#000" stroke-width="1.0"/>
<rect x="242.00" y="630.2" width="11.70" height="3.3" fill="#777"/>
<line x1="300.50" y1="490.70" x2="300.50" y2="632.10" stroke="#fff" stroke-width="1.6"/>
<line x1="300.50" y1="490.70" x2="300.50" y2="632.10" stroke="#aaa" stroke-width="1.0"/>
<text class="m" x="297.20" y="481.30" font-size="11.3" text-anchor="middle">presumed incorrect pairs</text>
<line x1="407.40" y1="497.40" x2="407.40" y2="636.50" stroke="#444" stroke-width="1.15"/>
<line x1="403.80" y1="632.90" x2="560.80" y2="632.90" stroke="#4a4a4a" stroke-width="1.35"/>
<line x1="403.80" y1="632.90" x2="407.40" y2="632.90" stroke="#222" stroke-width="1.0"/>
<text class="s" x="401.60" y="632.90" font-size="4.6" text-anchor="middle" transform="rotate(-90 401.60 632.90)">0.00</text>
<line x1="403.80" y1="610.32" x2="407.40" y2="610.32" stroke="#222" stroke-width="1.0"/>
<text class="s" x="401.60" y="610.32" font-size="4.6" text-anchor="middle" transform="rotate(-90 401.60 610.32)">0.01</text>
<line x1="403.80" y1="587.74" x2="407.40" y2="587.74" stroke="#222" stroke-width="1.0"/>
<text class="s" x="401.60" y="587.74" font-size="4.6" text-anchor="middle" transform="rotate(-90 401.60 587.74)">0.02</text>
<line x1="403.80" y1="565.16" x2="407.40" y2="565.16" stroke="#222" stroke-width="1.0"/>
<text class="s" x="401.60" y="565.16" font-size="4.6" text-anchor="middle" transform="rotate(-90 401.60 565.16)">0.03</text>
<line x1="403.80" y1="542.58" x2="407.40" y2="542.58" stroke="#222" stroke-width="1.0"/>
<text class="s" x="401.60" y="542.58" font-size="4.6" text-anchor="middle" transform="rotate(-90 401.60 542.58)">0.04</text>
<line x1="403.80" y1="520.00" x2="407.40" y2="520.00" stroke="#222" stroke-width="1.0"/>
<text class="s" x="401.60" y="520.00" font-size="4.6" text-anchor="middle" transform="rotate(-90 401.60 520.00)">0.05</text>
<line x1="403.80" y1="497.42" x2="407.40" y2="497.42" stroke="#222" stroke-width="1.0"/>
<text class="s" x="401.60" y="497.42" font-size="4.6" text-anchor="middle" transform="rotate(-90 401.60 497.42)">0.06</text>
<line x1="407.80" y1="632.90" x2="407.80" y2="636.50" stroke="#4a4a4a" stroke-width="1.0"/>
<text class="s" x="407.80" y="641.00" font-size="5.4" text-anchor="middle">0</text>
<line x1="429.64" y1="632.90" x2="429.64" y2="636.50" stroke="#4a4a4a" stroke-width="1.0"/>
<text class="s" x="429.64" y="641.00" font-size="5.4" text-anchor="middle">1</text>
<line x1="451.48" y1="632.90" x2="451.48" y2="636.50" stroke="#4a4a4a" stroke-width="1.0"/>
<text class="s" x="451.48" y="641.00" font-size="5.4" text-anchor="middle">2</text>
<line x1="473.32" y1="632.90" x2="473.32" y2="636.50" stroke="#4a4a4a" stroke-width="1.0"/>
<text class="s" x="473.32" y="641.00" font-size="5.4" text-anchor="middle">3</text>
<line x1="495.16" y1="632.90" x2="495.16" y2="636.50" stroke="#4a4a4a" stroke-width="1.0"/>
<text class="s" x="495.16" y="641.00" font-size="5.4" text-anchor="middle">4</text>
<line x1="517.00" y1="632.90" x2="517.00" y2="636.50" stroke="#4a4a4a" stroke-width="1.0"/>
<text class="s" x="517.00" y="641.00" font-size="5.4" text-anchor="middle">5</text>
<line x1="538.84" y1="632.90" x2="538.84" y2="636.50" stroke="#4a4a4a" stroke-width="1.0"/>
<text class="s" x="538.84" y="641.00" font-size="5.4" text-anchor="middle">6</text>
<line x1="560.68" y1="632.90" x2="560.68" y2="636.50" stroke="#4a4a4a" stroke-width="1.0"/>
<text class="s" x="560.68" y="641.00" font-size="5.4" text-anchor="middle">7</text>
<text class="m" x="390.20" y="562.50" font-size="14.1" text-anchor="middle" transform="rotate(-90 390.20 562.50)">fraction of mother</text>
<text class="m" x="483.30" y="654.60" font-size="14.1" text-anchor="middle">number of</text>
<text class="m" x="483.40" y="671.20" font-size="14.1" text-anchor="middle">nucleotide differences</text>
<circle cx="430.20" cy="592.40" r="0.95" fill="#000"/>
<circle cx="431.70" cy="592.20" r="0.95" fill="#000"/>
<circle cx="427.70" cy="601.00" r="0.95" fill="#000"/>
<circle cx="426.30" cy="603.70" r="0.95" fill="#000"/>
<circle cx="434.80" cy="604.80" r="0.95" fill="#000"/>
<circle cx="424.90" cy="608.40" r="0.95" fill="#000"/>
<circle cx="430.00" cy="607.60" r="0.95" fill="#000"/>
<circle cx="430.90" cy="607.40" r="0.95" fill="#000"/>
<circle cx="427.70" cy="609.80" r="0.95" fill="#000"/>
<circle cx="429.90" cy="611.90" r="0.95" fill="#000"/>
<circle cx="426.30" cy="615.20" r="0.95" fill="#000"/>
<circle cx="431.30" cy="615.20" r="0.95" fill="#000"/>
<circle cx="425.50" cy="502.60" r="0.95" fill="#000"/>
<circle cx="428.60" cy="502.60" r="0.95" fill="#000"/>
<circle cx="426.00" cy="525.50" r="0.95" fill="#000"/>
<circle cx="432.30" cy="531.00" r="0.95" fill="#000"/>
<circle cx="431.00" cy="533.70" r="0.95" fill="#000"/>
<circle cx="435.30" cy="540.00" r="0.95" fill="#000"/>
<circle cx="446.90" cy="613.30" r="0.95" fill="#000"/>
<circle cx="456.40" cy="615.20" r="0.95" fill="#000"/>
<circle cx="449.30" cy="617.30" r="0.95" fill="#000"/>
<circle cx="476.00" cy="604.50" r="0.95" fill="#000"/>
<circle cx="472.90" cy="611.20" r="0.95" fill="#000"/>
<circle cx="471.50" cy="613.00" r="0.95" fill="#000"/>
<circle cx="477.90" cy="618.30" r="0.95" fill="#000"/>
<circle cx="475.30" cy="620.00" r="0.95" fill="#000"/>
<circle cx="470.80" cy="622.10" r="0.95" fill="#000"/>
<circle cx="494.10" cy="618.70" r="0.95" fill="#000"/>
<circle cx="497.60" cy="621.10" r="0.95" fill="#000"/>
<circle cx="490.80" cy="626.80" r="0.95" fill="#000"/>
<circle cx="516.40" cy="626.50" r="0.95" fill="#000"/>
<circle cx="520.20" cy="629.40" r="0.95" fill="#000"/>
<circle cx="512.10" cy="632.00" r="0.95" fill="#000"/>
<circle cx="516.40" cy="631.60" r="0.95" fill="#000"/>
<circle cx="542.70" cy="631.80" r="0.95" fill="#000"/>
<circle cx="426.92" cy="625.67" r="0.95" fill="#000"/>
<circle cx="425.15" cy="622.79" r="0.95" fill="#000"/>
<circle cx="426.40" cy="618.04" r="0.95" fill="#000"/>
<circle cx="430.17" cy="620.86" r="0.95" fill="#000"/>
<circle cx="430.06" cy="614.64" r="0.95" fill="#000"/>
<circle cx="430.16" cy="621.81" r="0.95" fill="#000"/>
<circle cx="426.19" cy="623.39" r="0.95" fill="#000"/>
<circle cx="426.06" cy="623.65" r="0.95" fill="#000"/>
<circle cx="428.37" cy="615.65" r="0.95" fill="#000"/>
<circle cx="429.54" cy="620.49" r="0.95" fill="#000"/>
<circle cx="428.53" cy="616.80" r="0.95" fill="#000"/>
<circle cx="425.46" cy="618.40" r="0.95" fill="#000"/>
<circle cx="429.91" cy="617.00" r="0.95" fill="#000"/>
<circle cx="430.65" cy="619.11" r="0.95" fill="#000"/>
<circle cx="428.94" cy="617.55" r="0.95" fill="#000"/>
<circle cx="429.40" cy="617.50" r="0.95" fill="#000"/>
<circle cx="431.31" cy="619.52" r="0.95" fill="#000"/>
<circle cx="429.60" cy="616.77" r="0.95" fill="#000"/>
<circle cx="430.57" cy="620.65" r="0.95" fill="#000"/>
<circle cx="428.78" cy="620.74" r="0.95" fill="#000"/>
<circle cx="434.94" cy="622.45" r="0.95" fill="#000"/>
<circle cx="431.30" cy="622.36" r="0.95" fill="#000"/>
<circle cx="435.31" cy="623.11" r="0.95" fill="#000"/>
<circle cx="432.28" cy="623.59" r="0.95" fill="#000"/>
<circle cx="431.23" cy="625.94" r="0.95" fill="#000"/>
<circle cx="435.26" cy="623.14" r="0.95" fill="#000"/>
<circle cx="433.13" cy="621.89" r="0.95" fill="#000"/>
<circle cx="432.68" cy="622.16" r="0.95" fill="#000"/>
<circle cx="434.57" cy="625.07" r="0.95" fill="#000"/>
<circle cx="431.81" cy="624.71" r="0.95" fill="#000"/>
<circle cx="431.75" cy="623.42" r="0.95" fill="#000"/>
<circle cx="431.84" cy="624.16" r="0.95" fill="#000"/>
<circle cx="431.23" cy="622.00" r="0.95" fill="#000"/>
<circle cx="432.30" cy="623.98" r="0.95" fill="#000"/>
<circle cx="433.40" cy="622.02" r="0.95" fill="#000"/>
<circle cx="432.62" cy="621.96" r="0.95" fill="#000"/>
<circle cx="433.01" cy="623.66" r="0.95" fill="#000"/>
<circle cx="433.11" cy="625.92" r="0.95" fill="#000"/>
<circle cx="432.71" cy="625.19" r="0.95" fill="#000"/>
<circle cx="430.62" cy="622.48" r="0.95" fill="#000"/>
<circle cx="431.43" cy="623.92" r="0.95" fill="#000"/>
<circle cx="434.08" cy="623.55" r="0.95" fill="#000"/>
<circle cx="432.16" cy="623.72" r="0.95" fill="#000"/>
<circle cx="433.27" cy="622.55" r="0.95" fill="#000"/>
<circle cx="431.11" cy="623.53" r="0.95" fill="#000"/>
<circle cx="431.79" cy="624.78" r="0.95" fill="#000"/>
<circle cx="434.31" cy="623.77" r="0.95" fill="#000"/>
<circle cx="433.30" cy="622.66" r="0.95" fill="#000"/>
<circle cx="434.98" cy="624.05" r="0.95" fill="#000"/>
<circle cx="433.54" cy="623.78" r="0.95" fill="#000"/>
<circle cx="433.06" cy="622.95" r="0.95" fill="#000"/>
<circle cx="432.77" cy="623.65" r="0.95" fill="#000"/>
<circle cx="432.89" cy="621.86" r="0.95" fill="#000"/>
<circle cx="433.96" cy="622.14" r="0.95" fill="#000"/>
<circle cx="435.12" cy="624.86" r="0.95" fill="#000"/>
<circle cx="433.29" cy="621.85" r="0.95" fill="#000"/>
<circle cx="433.62" cy="631.47" r="0.95" fill="#000"/>
<circle cx="425.65" cy="629.39" r="0.95" fill="#000"/>
<circle cx="425.11" cy="630.76" r="0.95" fill="#000"/>
<circle cx="425.11" cy="627.85" r="0.95" fill="#000"/>
<circle cx="433.00" cy="626.30" r="0.95" fill="#000"/>
<circle cx="426.01" cy="627.53" r="0.95" fill="#000"/>
<circle cx="431.63" cy="631.43" r="0.95" fill="#000"/>
<circle cx="434.10" cy="625.82" r="0.95" fill="#000"/>
<circle cx="426.74" cy="625.92" r="0.95" fill="#000"/>
<circle cx="428.72" cy="629.09" r="0.95" fill="#000"/>
<circle cx="435.29" cy="626.74" r="0.95" fill="#000"/>
<circle cx="426.09" cy="629.47" r="0.95" fill="#000"/>
<circle cx="430.02" cy="630.09" r="0.95" fill="#000"/>
<circle cx="426.47" cy="630.23" r="0.95" fill="#000"/>
<circle cx="432.32" cy="632.27" r="0.95" fill="#000"/>
<circle cx="430.45" cy="629.40" r="0.95" fill="#000"/>
<circle cx="424.50" cy="630.15" r="0.95" fill="#000"/>
<circle cx="431.23" cy="628.92" r="0.95" fill="#000"/>
<circle cx="425.01" cy="625.70" r="0.95" fill="#000"/>
<circle cx="433.05" cy="625.79" r="0.95" fill="#000"/>
<circle cx="425.46" cy="630.59" r="0.95" fill="#000"/>
<circle cx="424.74" cy="627.10" r="0.95" fill="#000"/>
<circle cx="427.30" cy="631.52" r="0.95" fill="#000"/>
<circle cx="428.99" cy="626.20" r="0.95" fill="#000"/>
<circle cx="433.39" cy="630.64" r="0.95" fill="#000"/>
<circle cx="425.96" cy="626.15" r="0.95" fill="#000"/>
<circle cx="430.63" cy="627.64" r="0.95" fill="#000"/>
<circle cx="425.29" cy="632.01" r="0.95" fill="#000"/>
<circle cx="431.94" cy="629.51" r="0.95" fill="#000"/>
<circle cx="425.10" cy="626.02" r="0.95" fill="#000"/>
<circle cx="431.34" cy="626.95" r="0.95" fill="#000"/>
<circle cx="425.23" cy="626.58" r="0.95" fill="#000"/>
<circle cx="425.04" cy="626.53" r="0.95" fill="#000"/>
<circle cx="429.34" cy="630.09" r="0.95" fill="#000"/>
<circle cx="430.44" cy="626.10" r="0.95" fill="#000"/>
<circle cx="427.27" cy="631.52" r="0.95" fill="#000"/>
<circle cx="430.15" cy="630.78" r="0.95" fill="#000"/>
<circle cx="425.51" cy="631.30" r="0.95" fill="#000"/>
<circle cx="424.86" cy="631.03" r="0.95" fill="#000"/>
<circle cx="427.76" cy="630.33" r="0.95" fill="#000"/>
<circle cx="432.73" cy="630.43" r="0.95" fill="#000"/>
<circle cx="429.85" cy="631.19" r="0.95" fill="#000"/>
<circle cx="428.15" cy="632.28" r="0.95" fill="#000"/>
<circle cx="427.08" cy="632.30" r="0.95" fill="#000"/>
<circle cx="432.44" cy="628.65" r="0.95" fill="#000"/>
<circle cx="426.40" cy="629.17" r="0.95" fill="#000"/>
<circle cx="434.67" cy="631.68" r="0.95" fill="#000"/>
<circle cx="433.39" cy="629.46" r="0.95" fill="#000"/>
<circle cx="429.79" cy="626.72" r="0.95" fill="#000"/>
<circle cx="428.66" cy="628.95" r="0.95" fill="#000"/>
<circle cx="431.93" cy="625.72" r="0.95" fill="#000"/>
<circle cx="428.10" cy="626.74" r="0.95" fill="#000"/>
<circle cx="432.14" cy="628.08" r="0.95" fill="#000"/>
<circle cx="428.79" cy="630.04" r="0.95" fill="#000"/>
<circle cx="424.90" cy="631.52" r="0.95" fill="#000"/>
<circle cx="425.09" cy="627.36" r="0.95" fill="#000"/>
<circle cx="427.14" cy="631.29" r="0.95" fill="#000"/>
<circle cx="425.24" cy="626.68" r="0.95" fill="#000"/>
<circle cx="433.96" cy="627.84" r="0.95" fill="#000"/>
<circle cx="427.43" cy="630.75" r="0.95" fill="#000"/>
<circle cx="427.55" cy="629.28" r="0.95" fill="#000"/>
<circle cx="426.05" cy="629.37" r="0.95" fill="#000"/>
<circle cx="427.22" cy="625.86" r="0.95" fill="#000"/>
<circle cx="435.10" cy="628.68" r="0.95" fill="#000"/>
<circle cx="427.01" cy="625.83" r="0.95" fill="#000"/>
<circle cx="427.74" cy="629.98" r="0.95" fill="#000"/>
<circle cx="424.31" cy="629.80" r="0.95" fill="#000"/>
<circle cx="429.57" cy="628.98" r="0.95" fill="#000"/>
<circle cx="426.53" cy="628.97" r="0.95" fill="#000"/>
<circle cx="424.35" cy="630.60" r="0.95" fill="#000"/>
<circle cx="425.30" cy="629.68" r="0.95" fill="#000"/>
<circle cx="424.76" cy="632.25" r="0.95" fill="#000"/>
<circle cx="427.68" cy="630.82" r="0.95" fill="#000"/>
<circle cx="430.80" cy="628.80" r="0.95" fill="#000"/>
<circle cx="432.63" cy="627.93" r="0.95" fill="#000"/>
<circle cx="432.25" cy="626.42" r="0.95" fill="#000"/>
<circle cx="428.62" cy="630.18" r="0.95" fill="#000"/>
<circle cx="435.23" cy="631.38" r="0.95" fill="#000"/>
<circle cx="432.34" cy="628.03" r="0.95" fill="#000"/>
<circle cx="424.79" cy="626.72" r="0.95" fill="#000"/>
<circle cx="434.20" cy="628.13" r="0.95" fill="#000"/>
<circle cx="432.45" cy="626.88" r="0.95" fill="#000"/>
<circle cx="425.85" cy="628.84" r="0.95" fill="#000"/>
<circle cx="429.90" cy="626.72" r="0.95" fill="#000"/>
<circle cx="433.23" cy="626.78" r="0.95" fill="#000"/>
<circle cx="430.78" cy="626.33" r="0.95" fill="#000"/>
<circle cx="431.88" cy="627.69" r="0.95" fill="#000"/>
<circle cx="426.85" cy="632.19" r="0.95" fill="#000"/>
<circle cx="425.78" cy="629.95" r="0.95" fill="#000"/>
<circle cx="425.46" cy="626.72" r="0.95" fill="#000"/>
<circle cx="430.50" cy="628.13" r="0.95" fill="#000"/>
<circle cx="431.25" cy="627.77" r="0.95" fill="#000"/>
<circle cx="429.73" cy="632.38" r="0.95" fill="#000"/>
<circle cx="433.15" cy="627.31" r="0.95" fill="#000"/>
<circle cx="429.88" cy="628.76" r="0.95" fill="#000"/>
<circle cx="431.62" cy="631.95" r="0.95" fill="#000"/>
<circle cx="432.48" cy="630.69" r="0.95" fill="#000"/>
<circle cx="425.13" cy="630.59" r="0.95" fill="#000"/>
<circle cx="432.40" cy="631.00" r="0.95" fill="#000"/>
<circle cx="432.51" cy="625.77" r="0.95" fill="#000"/>
<circle cx="429.78" cy="629.80" r="0.95" fill="#000"/>
<circle cx="429.62" cy="627.75" r="0.95" fill="#000"/>
<circle cx="432.81" cy="628.20" r="0.95" fill="#000"/>
<circle cx="431.43" cy="631.87" r="0.95" fill="#000"/>
<circle cx="425.94" cy="630.67" r="0.95" fill="#000"/>
<circle cx="432.55" cy="630.33" r="0.95" fill="#000"/>
<circle cx="430.60" cy="632.32" r="0.95" fill="#000"/>
<circle cx="424.97" cy="630.57" r="0.95" fill="#000"/>
<circle cx="431.76" cy="627.69" r="0.95" fill="#000"/>
<circle cx="431.80" cy="630.42" r="0.95" fill="#000"/>
<circle cx="430.03" cy="629.24" r="0.95" fill="#000"/>
<circle cx="429.48" cy="631.59" r="0.95" fill="#000"/>
<circle cx="434.22" cy="631.05" r="0.95" fill="#000"/>
<circle cx="435.16" cy="626.03" r="0.95" fill="#000"/>
<circle cx="424.49" cy="629.28" r="0.95" fill="#000"/>
<circle cx="433.40" cy="625.82" r="0.95" fill="#000"/>
<circle cx="429.29" cy="630.57" r="0.95" fill="#000"/>
<circle cx="426.63" cy="625.97" r="0.95" fill="#000"/>
<circle cx="426.64" cy="628.45" r="0.95" fill="#000"/>
<circle cx="425.87" cy="628.84" r="0.95" fill="#000"/>
<circle cx="434.88" cy="631.50" r="0.95" fill="#000"/>
<circle cx="433.40" cy="628.94" r="0.95" fill="#000"/>
<circle cx="434.14" cy="627.62" r="0.95" fill="#000"/>
<circle cx="426.87" cy="626.30" r="0.95" fill="#000"/>
<circle cx="429.70" cy="632.23" r="0.95" fill="#000"/>
<circle cx="424.34" cy="629.06" r="0.95" fill="#000"/>
<circle cx="429.30" cy="630.35" r="0.95" fill="#000"/>
<circle cx="425.86" cy="630.06" r="0.95" fill="#000"/>
<circle cx="427.81" cy="626.69" r="0.95" fill="#000"/>
<circle cx="424.32" cy="627.30" r="0.95" fill="#000"/>
<circle cx="433.61" cy="631.58" r="0.95" fill="#000"/>
<circle cx="434.58" cy="627.55" r="0.95" fill="#000"/>
<circle cx="434.31" cy="630.43" r="0.95" fill="#000"/>
<circle cx="428.43" cy="629.73" r="0.95" fill="#000"/>
<circle cx="435.39" cy="628.39" r="0.95" fill="#000"/>
<circle cx="428.30" cy="629.49" r="0.95" fill="#000"/>
<circle cx="427.35" cy="632.07" r="0.95" fill="#000"/>
<circle cx="425.43" cy="626.72" r="0.95" fill="#000"/>
<circle cx="427.47" cy="626.04" r="0.95" fill="#000"/>
<circle cx="427.07" cy="630.59" r="0.95" fill="#000"/>
<circle cx="429.97" cy="631.11" r="0.95" fill="#000"/>
<circle cx="428.44" cy="625.90" r="0.95" fill="#000"/>
<circle cx="434.12" cy="626.88" r="0.95" fill="#000"/>
<circle cx="431.30" cy="626.19" r="0.95" fill="#000"/>
<circle cx="434.74" cy="628.67" r="0.95" fill="#000"/>
<circle cx="432.29" cy="632.06" r="0.95" fill="#000"/>
<circle cx="432.43" cy="629.33" r="0.95" fill="#000"/>
<circle cx="432.65" cy="628.02" r="0.95" fill="#000"/>
<circle cx="427.48" cy="632.07" r="0.95" fill="#000"/>
<circle cx="434.59" cy="631.53" r="0.95" fill="#000"/>
<circle cx="429.54" cy="630.06" r="0.95" fill="#000"/>
<circle cx="427.61" cy="627.37" r="0.95" fill="#000"/>
<circle cx="435.14" cy="630.63" r="0.95" fill="#000"/>
<circle cx="431.58" cy="630.35" r="0.95" fill="#000"/>
<circle cx="430.49" cy="629.72" r="0.95" fill="#000"/>
<circle cx="426.16" cy="631.30" r="0.95" fill="#000"/>
<circle cx="426.61" cy="626.24" r="0.95" fill="#000"/>
<circle cx="429.82" cy="630.90" r="0.95" fill="#000"/>
<circle cx="434.36" cy="625.62" r="0.95" fill="#000"/>
<circle cx="429.29" cy="631.45" r="0.95" fill="#000"/>
<circle cx="426.44" cy="631.78" r="0.95" fill="#000"/>
<circle cx="428.10" cy="631.78" r="0.95" fill="#000"/>
<circle cx="426.95" cy="630.64" r="0.95" fill="#000"/>
<circle cx="430.62" cy="626.37" r="0.95" fill="#000"/>
<circle cx="432.62" cy="629.59" r="0.95" fill="#000"/>
<circle cx="428.89" cy="628.84" r="0.95" fill="#000"/>
<circle cx="428.48" cy="630.10" r="0.95" fill="#000"/>
<circle cx="424.99" cy="630.51" r="0.95" fill="#000"/>
<circle cx="435.04" cy="631.54" r="0.95" fill="#000"/>
<circle cx="429.89" cy="628.12" r="0.95" fill="#000"/>
<circle cx="433.88" cy="630.93" r="0.95" fill="#000"/>
<circle cx="427.31" cy="630.71" r="0.95" fill="#000"/>
<circle cx="428.74" cy="629.37" r="0.95" fill="#000"/>
<circle cx="434.89" cy="626.63" r="0.95" fill="#000"/>
<circle cx="433.99" cy="632.25" r="0.95" fill="#000"/>
<circle cx="424.66" cy="627.58" r="0.95" fill="#000"/>
<circle cx="434.24" cy="629.18" r="0.95" fill="#000"/>
<circle cx="430.82" cy="632.40" r="0.95" fill="#000"/>
<circle cx="428.65" cy="626.10" r="0.95" fill="#000"/>
<circle cx="433.46" cy="626.58" r="0.95" fill="#000"/>
<circle cx="435.09" cy="630.71" r="0.95" fill="#000"/>
<circle cx="425.51" cy="631.35" r="0.95" fill="#000"/>
<circle cx="430.10" cy="627.76" r="0.95" fill="#000"/>
<circle cx="434.75" cy="627.49" r="0.95" fill="#000"/>
<circle cx="431.49" cy="627.20" r="0.95" fill="#000"/>
<circle cx="429.38" cy="628.65" r="0.95" fill="#000"/>
<circle cx="424.74" cy="627.08" r="0.95" fill="#000"/>
<circle cx="426.88" cy="626.14" r="0.95" fill="#000"/>
<circle cx="431.47" cy="630.33" r="0.95" fill="#000"/>
<circle cx="425.72" cy="630.69" r="0.95" fill="#000"/>
<circle cx="431.36" cy="627.65" r="0.95" fill="#000"/>
<circle cx="425.54" cy="631.92" r="0.95" fill="#000"/>
<circle cx="430.12" cy="628.44" r="0.95" fill="#000"/>
<circle cx="428.61" cy="630.88" r="0.95" fill="#000"/>
<circle cx="430.97" cy="632.33" r="0.95" fill="#000"/>
<circle cx="427.65" cy="629.27" r="0.95" fill="#000"/>
<circle cx="434.94" cy="628.02" r="0.95" fill="#000"/>
<circle cx="434.11" cy="629.17" r="0.95" fill="#000"/>
<circle cx="426.91" cy="630.72" r="0.95" fill="#000"/>
<circle cx="434.96" cy="627.61" r="0.95" fill="#000"/>
<circle cx="450.27" cy="624.88" r="0.95" fill="#000"/>
<circle cx="451.98" cy="621.29" r="0.95" fill="#000"/>
<circle cx="451.28" cy="623.59" r="0.95" fill="#000"/>
<circle cx="453.51" cy="619.91" r="0.95" fill="#000"/>
<circle cx="449.54" cy="624.81" r="0.95" fill="#000"/>
<circle cx="450.54" cy="622.69" r="0.95" fill="#000"/>
<circle cx="453.64" cy="623.91" r="0.95" fill="#000"/>
<circle cx="454.67" cy="620.93" r="0.95" fill="#000"/>
<circle cx="452.04" cy="623.87" r="0.95" fill="#000"/>
<circle cx="456.23" cy="623.29" r="0.95" fill="#000"/>
<circle cx="454.88" cy="623.73" r="0.95" fill="#000"/>
<circle cx="449.49" cy="620.82" r="0.95" fill="#000"/>
<circle cx="450.15" cy="619.76" r="0.95" fill="#000"/>
<circle cx="451.96" cy="623.97" r="0.95" fill="#000"/>
<circle cx="449.51" cy="622.71" r="0.95" fill="#000"/>
<circle cx="453.49" cy="619.78" r="0.95" fill="#000"/>
<circle cx="448.82" cy="622.84" r="0.95" fill="#000"/>
<circle cx="449.42" cy="619.64" r="0.95" fill="#000"/>
<circle cx="448.39" cy="632.30" r="0.95" fill="#000"/>
<circle cx="447.59" cy="630.33" r="0.95" fill="#000"/>
<circle cx="455.80" cy="625.42" r="0.95" fill="#000"/>
<circle cx="454.18" cy="624.03" r="0.95" fill="#000"/>
<circle cx="456.13" cy="630.81" r="0.95" fill="#000"/>
<circle cx="448.82" cy="624.79" r="0.95" fill="#000"/>
<circle cx="454.31" cy="632.35" r="0.95" fill="#000"/>
<circle cx="453.51" cy="630.44" r="0.95" fill="#000"/>
<circle cx="450.66" cy="630.80" r="0.95" fill="#000"/>
<circle cx="448.66" cy="632.40" r="0.95" fill="#000"/>
<circle cx="449.74" cy="630.65" r="0.95" fill="#000"/>
<circle cx="456.36" cy="632.03" r="0.95" fill="#000"/>
<circle cx="456.45" cy="631.61" r="0.95" fill="#000"/>
<circle cx="450.49" cy="626.14" r="0.95" fill="#000"/>
<circle cx="455.06" cy="630.01" r="0.95" fill="#000"/>
<circle cx="447.48" cy="629.66" r="0.95" fill="#000"/>
<circle cx="450.65" cy="624.99" r="0.95" fill="#000"/>
<circle cx="448.89" cy="630.55" r="0.95" fill="#000"/>
<circle cx="455.79" cy="632.36" r="0.95" fill="#000"/>
<circle cx="451.03" cy="626.26" r="0.95" fill="#000"/>
<circle cx="454.51" cy="632.33" r="0.95" fill="#000"/>
<circle cx="447.34" cy="632.27" r="0.95" fill="#000"/>
<circle cx="456.02" cy="631.31" r="0.95" fill="#000"/>
<circle cx="454.32" cy="625.25" r="0.95" fill="#000"/>
<circle cx="450.32" cy="631.21" r="0.95" fill="#000"/>
<circle cx="456.39" cy="628.33" r="0.95" fill="#000"/>
<circle cx="449.57" cy="627.30" r="0.95" fill="#000"/>
<circle cx="450.10" cy="631.18" r="0.95" fill="#000"/>
<circle cx="447.04" cy="626.88" r="0.95" fill="#000"/>
<circle cx="455.98" cy="628.16" r="0.95" fill="#000"/>
<circle cx="456.24" cy="632.37" r="0.95" fill="#000"/>
<circle cx="449.29" cy="629.65" r="0.95" fill="#000"/>
<circle cx="456.38" cy="624.57" r="0.95" fill="#000"/>
<circle cx="450.79" cy="631.34" r="0.95" fill="#000"/>
<circle cx="451.21" cy="629.49" r="0.95" fill="#000"/>
<circle cx="456.10" cy="631.74" r="0.95" fill="#000"/>
<circle cx="454.87" cy="627.07" r="0.95" fill="#000"/>
<circle cx="455.06" cy="626.69" r="0.95" fill="#000"/>
<circle cx="452.95" cy="630.82" r="0.95" fill="#000"/>
<circle cx="450.13" cy="630.57" r="0.95" fill="#000"/>
<circle cx="454.67" cy="632.21" r="0.95" fill="#000"/>
<circle cx="448.93" cy="626.91" r="0.95" fill="#000"/>
<circle cx="449.42" cy="632.26" r="0.95" fill="#000"/>
<circle cx="447.33" cy="628.95" r="0.95" fill="#000"/>
<circle cx="450.19" cy="624.25" r="0.95" fill="#000"/>
<circle cx="455.66" cy="624.15" r="0.95" fill="#000"/>
<circle cx="449.60" cy="632.20" r="0.95" fill="#000"/>
<circle cx="447.94" cy="629.44" r="0.95" fill="#000"/>
<circle cx="453.96" cy="629.89" r="0.95" fill="#000"/>
<circle cx="449.30" cy="630.14" r="0.95" fill="#000"/>
<circle cx="453.08" cy="627.75" r="0.95" fill="#000"/>
<circle cx="454.33" cy="625.85" r="0.95" fill="#000"/>
<circle cx="453.51" cy="632.05" r="0.95" fill="#000"/>
<circle cx="455.24" cy="631.06" r="0.95" fill="#000"/>
<circle cx="452.56" cy="630.49" r="0.95" fill="#000"/>
<circle cx="454.23" cy="631.65" r="0.95" fill="#000"/>
<circle cx="449.42" cy="631.38" r="0.95" fill="#000"/>
<circle cx="448.50" cy="625.42" r="0.95" fill="#000"/>
<circle cx="452.67" cy="630.83" r="0.95" fill="#000"/>
<circle cx="450.88" cy="624.09" r="0.95" fill="#000"/>
<circle cx="451.97" cy="631.47" r="0.95" fill="#000"/>
<circle cx="454.92" cy="627.96" r="0.95" fill="#000"/>
<circle cx="456.71" cy="632.13" r="0.95" fill="#000"/>
<circle cx="451.65" cy="626.17" r="0.95" fill="#000"/>
<circle cx="455.24" cy="625.06" r="0.95" fill="#000"/>
<circle cx="447.40" cy="631.06" r="0.95" fill="#000"/>
<circle cx="448.17" cy="631.71" r="0.95" fill="#000"/>
<circle cx="456.54" cy="628.66" r="0.95" fill="#000"/>
<circle cx="456.12" cy="630.49" r="0.95" fill="#000"/>
<circle cx="455.49" cy="629.87" r="0.95" fill="#000"/>
<circle cx="449.55" cy="626.64" r="0.95" fill="#000"/>
<circle cx="456.27" cy="632.11" r="0.95" fill="#000"/>
<circle cx="452.84" cy="628.30" r="0.95" fill="#000"/>
<circle cx="449.13" cy="630.52" r="0.95" fill="#000"/>
<circle cx="448.39" cy="631.63" r="0.95" fill="#000"/>
<circle cx="449.50" cy="628.50" r="0.95" fill="#000"/>
<circle cx="453.39" cy="631.63" r="0.95" fill="#000"/>
<circle cx="447.11" cy="630.83" r="0.95" fill="#000"/>
<circle cx="453.65" cy="631.73" r="0.95" fill="#000"/>
<circle cx="450.06" cy="631.63" r="0.95" fill="#000"/>
<circle cx="476.71" cy="630.01" r="0.95" fill="#000"/>
<circle cx="469.25" cy="632.21" r="0.95" fill="#000"/>
<circle cx="472.63" cy="629.99" r="0.95" fill="#000"/>
<circle cx="475.12" cy="632.24" r="0.95" fill="#000"/>
<circle cx="470.27" cy="628.98" r="0.95" fill="#000"/>
<circle cx="472.78" cy="631.51" r="0.95" fill="#000"/>
<circle cx="471.74" cy="626.91" r="0.95" fill="#000"/>
<circle cx="471.79" cy="629.88" r="0.95" fill="#000"/>
<circle cx="472.24" cy="630.81" r="0.95" fill="#000"/>
<circle cx="477.42" cy="626.53" r="0.95" fill="#000"/>
<circle cx="472.31" cy="631.88" r="0.95" fill="#000"/>
<circle cx="476.03" cy="631.86" r="0.95" fill="#000"/>
<circle cx="468.66" cy="627.35" r="0.95" fill="#000"/>
<circle cx="472.92" cy="628.02" r="0.95" fill="#000"/>
<circle cx="472.74" cy="627.51" r="0.95" fill="#000"/>
<circle cx="473.30" cy="632.01" r="0.95" fill="#000"/>
<circle cx="468.75" cy="629.98" r="0.95" fill="#000"/>
<circle cx="475.13" cy="627.28" r="0.95" fill="#000"/>
<circle cx="469.51" cy="629.50" r="0.95" fill="#000"/>
<circle cx="472.38" cy="630.29" r="0.95" fill="#000"/>
<circle cx="470.09" cy="631.51" r="0.95" fill="#000"/>
<circle cx="473.92" cy="627.15" r="0.95" fill="#000"/>
<circle cx="469.71" cy="630.37" r="0.95" fill="#000"/>
<circle cx="476.81" cy="626.79" r="0.95" fill="#000"/>
<circle cx="470.61" cy="632.13" r="0.95" fill="#000"/>
<circle cx="478.22" cy="626.72" r="0.95" fill="#000"/>
<circle cx="473.52" cy="632.33" r="0.95" fill="#000"/>
<circle cx="478.05" cy="630.97" r="0.95" fill="#000"/>
<circle cx="477.82" cy="629.52" r="0.95" fill="#000"/>
<circle cx="477.01" cy="632.02" r="0.95" fill="#000"/>
<circle cx="498.64" cy="632.04" r="0.95" fill="#000"/>
<circle cx="494.45" cy="629.75" r="0.95" fill="#000"/>
<circle cx="499.12" cy="632.13" r="0.95" fill="#000"/>
<circle cx="492.40" cy="631.54" r="0.95" fill="#000"/>
<circle cx="495.70" cy="631.59" r="0.95" fill="#000"/>
<circle cx="491.35" cy="631.98" r="0.95" fill="#000"/>
<circle cx="497.97" cy="629.51" r="0.95" fill="#000"/>
<circle cx="490.45" cy="630.97" r="0.95" fill="#000"/>
<circle cx="498.33" cy="632.37" r="0.95" fill="#000"/>
<circle cx="499.22" cy="632.26" r="0.95" fill="#000"/>
<circle cx="496.59" cy="631.01" r="0.95" fill="#000"/>
<circle cx="496.90" cy="631.82" r="0.95" fill="#000"/>
</svg>
</body></html>
